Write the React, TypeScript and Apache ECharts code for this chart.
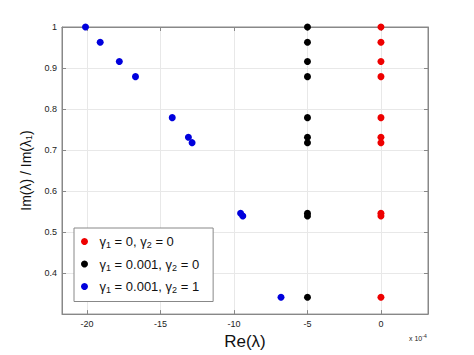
import React, { useEffect, useRef } from "react";
import * as echarts from "echarts";

const imRatio = [1.0, 0.963, 0.916, 0.879, 0.779, 0.731, 0.718, 0.546, 0.539, 0.341];
const reCase1 = [0, 0, 0, 0, 0, 0, 0, 0, 0, 0];
const reCase2 = [-5, -5, -5, -5, -5, -5, -5, -5, -5, -5];
const reCase3 = [-20.1, -19.1, -17.8, -16.7, -14.2, -13.1, -12.85, -9.55, -9.4, -6.8];
const xTicks = [-20, -15, -10, -5, 0];
const yTicks = [0.4, 0.5, 0.6, 0.7, 0.8, 0.9, 1];
const seriesNames = ["case1", "case2", "case3"];
const legendLabels: Record<string, string> = {
  case1: "{t|γ}{s|1}{t| = 0, γ}{s|2}{t| = 0}",
  case2: "{t|γ}{s|1}{t| = 0.001, γ}{s|2}{t| = 0}",
  case3: "{t|γ}{s|1}{t| = 0.001, γ}{s|2}{t| = 1}",
};
const colors = ["#ee0000", "#000000", "#0000dd"];

export default function App() {
  const ref = useRef<HTMLDivElement>(null);
  useEffect(() => {
    const chart = echarts.init(ref.current!, null, { renderer: "svg" });
    const pairs = (xs: number[]) => xs.map((x, i) => [x, imRatio[i]]);
    const allX = [reCase1, reCase2, reCase3];
    const fontFamily = "Liberation Sans, Arial, sans-serif";
    const axisLine = { show: true, onZero: false, lineStyle: { color: "#888888" } };
    chart.setOption({
      animation: false,
      backgroundColor: "#ffffff",
      textStyle: { fontFamily },
      grid: {
        left: 62,
        right: 46,
        top: 27,
        bottom: 39,
        show: true,
        borderColor: "#888888",
        borderWidth: 1,
      },
      xAxis: [
        {
          type: "value",
          min: -21.7,
          max: 3.2,
          name: "Re(λ)",
          nameLocation: "middle",
          nameGap: 14,
          nameTextStyle: { fontSize: 17, color: "#111", fontFamily },
          axisLine,
          axisTick: { show: true, inside: true, length: 4, customValues: xTicks, lineStyle: { color: "#888888" } },
          axisLabel: { customValues: xTicks, fontSize: 9, color: "#222", margin: 5 },
          splitLine: { show: true, lineStyle: { color: "#e8e8e8" } },
        },
        {
          type: "value",
          position: "top",
          min: -21.7,
          max: 3.2,
          axisLine,
          axisTick: { show: true, inside: true, length: 4, customValues: xTicks, lineStyle: { color: "#888888" } },
          axisLabel: { show: false },
          splitLine: { show: false },
        },
      ],
      yAxis: [
        {
          type: "value",
          min: 0.3,
          max: 1,
          name: "Im(λ) / Im(λ{s|1})",
          nameLocation: "middle",
          nameGap: 24,
          nameTextStyle: {
            fontSize: 14,
            color: "#111",
            fontFamily,
            rich: { s: { fontSize: 9, verticalAlign: "bottom", padding: [6, 0, 0, 0], color: "#111" } },
          },
          axisLine,
          axisTick: { show: true, inside: true, length: 4, customValues: yTicks, lineStyle: { color: "#888888" } },
          axisLabel: { customValues: yTicks, fontSize: 9, color: "#222", margin: 5 },
          splitLine: { show: true, lineStyle: { color: "#e8e8e8" } },
        },
        {
          type: "value",
          position: "right",
          min: 0.3,
          max: 1,
          axisLine,
          axisTick: { show: true, inside: true, length: 4, customValues: yTicks, lineStyle: { color: "#888888" } },
          axisLabel: { show: false },
          splitLine: { show: false },
        },
      ],
      legend: {
        orient: "vertical",
        left: 74,
        top: 228,
        padding: [7, 14, 7, 7],
        itemGap: 8,
        itemWidth: 20,
        itemHeight: 7,
        backgroundColor: "#ffffff",
        borderColor: "#888888",
        borderWidth: 1,
        borderRadius: 0,
        icon: "circle",
        itemStyle: { opacity: 1 },
        data: seriesNames,
        formatter: (name: string) => legendLabels[name],
        textStyle: {
          fontFamily,
          rich: {
            t: { fontSize: 13, color: "#111", fontFamily },
            s: { fontSize: 9, color: "#111", fontFamily, verticalAlign: "bottom", padding: [7, 0, 0, 0] },
          },
        },
      },
      graphic: [
        {
          type: "text",
          left: 409,
          top: 333,
          style: {
            text: "{a|x 10}{b|-4}",
            rich: {
              a: { fontSize: 7, fill: "#222", fontFamily },
              b: { fontSize: 5, fill: "#222", fontFamily, verticalAlign: "top", padding: [0, 0, 5, 0] },
            },
          },
        },
      ],
      series: seriesNames.map((n, i) => ({
        name: n,
        type: "scatter",
        symbol: "circle",
        symbolSize: 7,
        itemStyle: { color: colors[i], opacity: 1 },
        data: pairs(allX[i]),
      })),
    });
    return () => chart.dispose();
  }, []);
  return (
    <div
      ref={ref}
      style={{ position: "fixed", left: 0, top: 0, width: 474, height: 355 }}
    />
  );
}
